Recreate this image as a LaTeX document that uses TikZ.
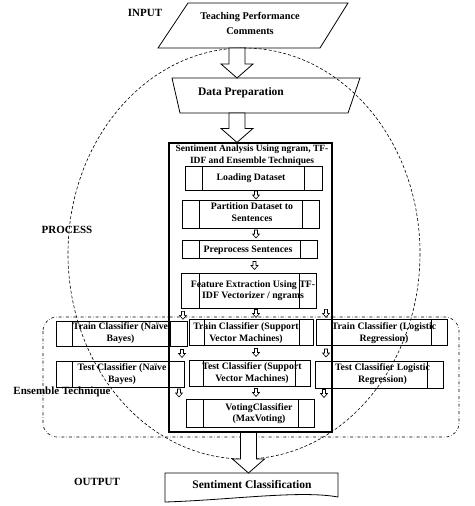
\documentclass[tikz,border=0pt]{standalone}
\usepackage{fontspec}
\setmainfont{Liberation Serif}
\usetikzlibrary{calc}

\begin{document}
\begin{tikzpicture}[x=1pt,y=-1pt,
    lbl/.style={font=\fontsize{11}{13}\selectfont\bfseries, inner sep=0},
    txt/.style={font=\fontsize{9.8}{11.3}\selectfont\bfseries, inner sep=0, align=center},
    bigtxt/.style={font=\fontsize{11.5}{15}\selectfont\bfseries, inner sep=0, align=center},
    procbox/.style 2 args={draw, line width=0.8pt, inner sep=0, path picture={
        \draw[line width=0.8pt] ([xshift=#1]path picture bounding box.north west) -- ([xshift=#1]path picture bounding box.south west);
        \draw[line width=0.8pt] ([xshift=-#2]path picture bounding box.north east) -- ([xshift=-#2]path picture bounding box.south east);}},
    bigarr/.style={draw, line width=0.8pt, fill=white, to path={let \p1=(\tikztostart), \p2=(\tikztotarget) in
        (\x1-8pt,\y1) -- (\x1-8pt,\y2+14pt) -- (\x1-16pt,\y2+14pt) -- (\x1,\y2) -- (\x1+16pt,\y2+14pt) -- (\x1+8pt,\y2+14pt) -- (\x1+8pt,\y1) -- cycle}},
    smallarr/.style={draw, line width=0.6pt, fill=white, to path={let \p1=(\tikztostart), \p3=($(\tikztostart)!0.5!(\tikztotarget)$) in
        (\x1-1.5pt,\y3+4pt) -- (\x1-1.5pt,\y3) -- (\x1-3.5pt,\y3) -- (\x1,\y3-4pt) -- (\x1+3.5pt,\y3) -- (\x1+1.5pt,\y3) -- (\x1+1.5pt,\y3+4pt) -- cycle}}]
    \useasboundingbox (0,0) rectangle (474,506);

    % outer regions
    \draw[dashed, dash pattern=on 3pt off 2pt, line width=0.6pt] (244,253.5) ellipse [x radius=176, y radius=205.5];
    \draw[dash dot, line width=0.6pt, rounded corners=14] (43,317) rectangle (459,437);

    % input, preparation, output shapes
    \draw[line width=0.8pt] (188,3) -- (348,3) -- (320,48) -- (158,48) -- cycle;
    \node[bigtxt, font=\fontsize{10.3}{15}\selectfont\bfseries] (in) at (250,23.5) {Teaching Performance\\Comments};
    \draw[line width=0.8pt] (172,78) -- (360,78) -- (348,113) -- (180,113) -- cycle;
    \node[bigtxt] (dp) at (241,93) {Data Preparation};
    \draw[line width=0.8pt] (165,473) -- (338,473) -- (338,497) .. controls (300,490) and (230,500) .. (165,502) -- cycle;
    \node[bigtxt] (out) at (252,485) {Sentiment Classification};

    \node[lbl] (inlbl) at (145,13) {INPUT};
    \node[lbl] (proclbl) at (67,230) {PROCESS};
    \node[lbl] (enslbl) at (62,392) {Ensemble Technique};
    \node[lbl] (outlbl) at (97,482) {OUTPUT};

    % main block
    \node[draw, line width=1.1pt, minimum width=163, minimum height=289, inner sep=0] (sa) at (250.5,287.5) {};
    \node[txt, font=\fontsize{9.5}{11.5}\selectfont\bfseries] (title) at (252,155) {Sentiment Analysis Using ngram, TF-\\IDF and Ensemble Techniques};

    \node[procbox={17}{18}, minimum width=137, minimum height=24] (load) at (253.5,178) {};
    \node[procbox={17}{17}, minimum width=137, minimum height=28] (part) at (250.5,214) {};
    \node[procbox={17}{17}, minimum width=135, minimum height=18] (prep) at (249.5,249) {};
    \node[procbox={18}{17}, minimum width=135, minimum height=35] (feat) at (248.5,290.5) {};
    \node[procbox={16}{17}, minimum width=131, minimum height=25] (trainnb) at (121.5,333.5) {};
    \node[procbox={16}{16}, minimum width=128, minimum height=26] (testnb) at (120,374) {};
    \node[procbox={15}{14}, minimum width=124, minimum height=26] (trainsvm) at (251,332) {};
    \node[procbox={14}{15}, minimum width=121, minimum height=26] (testsvm) at (249.5,373) {};
    \node[procbox={17}{16}, minimum width=128, minimum height=28] (vote) at (250,413) {};
    \node[procbox={16}{16}, minimum width=131, minimum height=26] (trainlr) at (381.5,332) {};
    \node[procbox={16}{16}, minimum width=128, minimum height=27] (testlr) at (379,374.5) {};

    \node[txt] (loadtxt) at (251,178) {Loading Dataset};
    \node[txt] (parttxt) at (252,212) {Partition Dataset to\\Sentences};
    \node[txt] (preptxt) at (248,250) {Preprocess Sentences};
    \node[txt] (feattxt) at (253,290.5) {Feature Extraction Using TF-\\IDF Vectorizer / ngrams};
    \node[txt] (trnbtxt) at (120.5,333) {Train Classifier (Naïve\\Bayes)};
    \node[txt] (tsnbtxt) at (122,374) {Test Classifier (Naïve\\Bayes)};
    \node[txt] (trsvmtxt) at (246,333) {Train Classifier (Support\\Vector Machines)};
    \node[txt] (tssvmtxt) at (252,373) {Test Classifier (Support\\Vector Machines)};
    \node[txt] (votetxt) at (259,413.5) {VotingClassifier\\(MaxVoting)};
    \node[txt] (trlrtxt) at (384,333) {Train Classifier (Logistic\\Regression)};
    \node[txt] (tslrtxt) at (382.5,374) {Test Classifier Logistic\\Regression)};

    % big arrows
    \coordinate (a1) at (237,48);
    \coordinate (a1end) at (237,78);
    \coordinate (a2) at (237,113);
    \coordinate (a3end) at (248.5,473);
    \draw[bigarr] (a1) to (a1end);
    \draw[bigarr] (a2) to (a2 |- sa.north);
    \draw[bigarr] ([xshift=-2]sa.south) to (a3end);

    % small arrows
    \coordinate (nbin) at (183,310);
    \coordinate (lrin) at (326,308);
    \draw[smallarr] ([xshift=2.5]load.south) to (part.north);
    \draw[smallarr] ([xshift=5.5]part.south) to (prep.north);
    \draw[smallarr] ([xshift=5]prep.south) to (feat.north);
    \draw[smallarr] ([xshift=7.5]feat.south) to (trainsvm.north);
    \draw[smallarr] ([xshift=5]trainsvm.south) to (testsvm.north);
    \draw[smallarr] ([xshift=6.5]testsvm.south) to (vote.north);
    \draw[smallarr] (nbin) to (nbin |- trainnb.north);
    \draw[smallarr] ([xshift=60.5]trainnb.south) to (testnb.north);
    \draw[smallarr] ([xshift=59]testnb.south) to (vote.north);
    \draw[smallarr] (lrin) to (lrin |- trainlr.north);
    \draw[smallarr] ([xshift=-55.5]trainlr.south) to (testlr.north);
    \draw[smallarr] ([xshift=-55]testlr.south) to (vote.north);
\end{tikzpicture}
\end{document}
